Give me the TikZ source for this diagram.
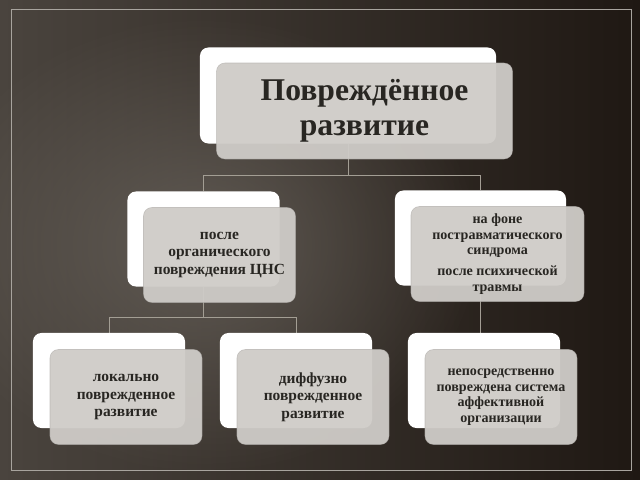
\documentclass[tikz,border=0pt]{standalone}
\usepackage{fontspec}
\setmainfont{Liberation Serif}
\usetikzlibrary{positioning,backgrounds,fadings}
\definecolor{bgDark}{HTML}{1F1813}
\definecolor{bgMid}{HTML}{4A443E}
\definecolor{bgLight}{HTML}{6C665F}
\definecolor{boxGray}{HTML}{CFCCC8}
\definecolor{linkGray}{HTML}{A39E94}
\definecolor{frameGray}{HTML}{A8A49E}
\definecolor{textDark}{HTML}{282622}
\tikzfading[name=glow, inner color=transparent!25, outer color=transparent!100]
\tikzset{
  backBox/.style={rectangle, rounded corners=6pt, fill=white, minimum width=3.8cm, minimum height=2.375cm, inner sep=0pt},
  frontBox/.style={rectangle, rounded corners=6pt, fill=boxGray, fill opacity=0.95, text opacity=1, draw=boxGray!80!black, draw opacity=0.5, line width=0.4pt, minimum width=3.8cm, minimum height=2.375cm, inner sep=0pt, align=center, text=textDark, font=\bfseries\fontsize{11}{12.5}\selectfont},
  bigBox/.style={minimum width=7.4cm, minimum height=2.4cm},
  smallText/.style={font=\bfseries\fontsize{10}{11}\selectfont},
  link/.style={draw=linkGray, line width=0.5pt}
}

\begin{document}
\begin{tikzpicture}[x=0.025cm, y=-0.025cm]

\useasboundingbox (0,0) rectangle (640,480);

% Background
\begin{scope}[on background layer]
  \fill[bgDark] (0,0) rectangle (640,480);
  \shade[left color=bgMid, right color=bgDark] (0,0) rectangle (640,480);
  \fill[bgLight, path fading=glow] (200,245) ellipse (280 and 230);
  \draw[frameGray, line width=0.6pt] (11,9) rectangle (631,470);
\end{scope}

% Top
\node[backBox, bigBox] (T0b) at (348,95.5) {};
\node[frontBox, bigBox, font=\bfseries\fontsize{22.5}{25}\selectfont] (T0) at ([shift={(16.5,15.5)}]T0b) {Повреждённое\\развитие};

% Middle row
\node[backBox] (M1b) at (203.5,239) {};
\node[frontBox] (M1) at ([shift={(16,16)}]M1b) {после\\органического\\повреждения ЦНС};
\node[backBox, minimum width=4.275cm] (M2b) at (480.5,238) {};
\node[frontBox, smallText, minimum width=4.325cm] (M2) at ([shift={(17,16)}]M2b) {на фоне\\постравматического\\синдрома\\[4pt]после психической\\травмы};

% Bottom row
\node[backBox] (L1b) at (109,380.5) {};
\node[frontBox] (L1) at ([shift={(17,16.5)}]L1b) {локально\\поврежденное\\развитие};
\node[backBox] (L2b) at (296,380.5) {};
\node[frontBox] (L2) at ([shift={(17,16.5)}]L2b) {диффузно\\поврежденное\\развитие};
\node[backBox] (L3b) at (484,380.5) {};
\node[frontBox, smallText] (L3) at ([shift={(17,16.5)}]L3b) {непосредственно\\повреждена система\\аффективной\\организации};

% Connectors
\begin{scope}[on background layer]
  \draw[link] (T0b.south) -- ++(0,32) -| (M1b.north);
  \draw[link] (T0b.south) ++(0,32) -| (M2b.north);
  \draw[link] (M1b.south) -- ++(0,31) -| (L1b.north);
  \draw[link] (M1b.south) ++(0,31) -| (L2b.north);
  \draw[link] (M2b.south) -- (M2b.south |- L3b.north);
\end{scope}

\end{tikzpicture}
\end{document}
